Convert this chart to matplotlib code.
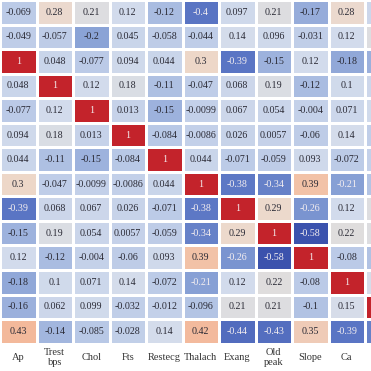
import numpy as np
import matplotlib
matplotlib.use("Agg")
import matplotlib.pyplot as plt
from matplotlib.colors import LinearSegmentedColormap
import seaborn as sns

rows = ["Age", "Sex", "Cp", "Trestbps", "Chol", "Fbs", "Restecg", "Thalach",
        "Exang", "Oldpeak", "Slope", "Ca", "Thal", "Target"]
cols = ["Ap", "Trest\nbps", "Chol", "Fts", "Restecg", "Thalach", "Exang",
        "Old\npeak", "Slope", "Ca", "Thal"]

age = [-0.069, 0.28, 0.21, 0.12, -0.12, -0.4, 0.097, 0.21, -0.17, 0.28, 0.068]
sex = [-0.049, -0.057, -0.2, 0.045, -0.058, -0.044, 0.14, 0.096, -0.031, 0.12, 0.21]
cp = [1, 0.048, -0.077, 0.094, 0.044, 0.3, -0.39, -0.15, 0.12, -0.18, -0.16]
trestbps = [0.048, 1, 0.12, 0.18, -0.11, -0.047, 0.068, 0.19, -0.12, 0.1, 0.062]
chol = [-0.077, 0.12, 1, 0.013, -0.15, -0.0099, 0.067, 0.054, -0.004, 0.071, 0.099]
fbs = [0.094, 0.18, 0.013, 1, -0.084, -0.0086, 0.026, 0.0057, -0.06, 0.14, -0.032]
restecg = [0.044, -0.11, -0.15, -0.084, 1, 0.044, -0.071, -0.059, 0.093, -0.072, -0.012]
thalach = [0.3, -0.047, -0.0099, -0.0086, 0.044, 1, -0.38, -0.34, 0.39, -0.21, -0.096]
exang = [-0.39, 0.068, 0.067, 0.026, -0.071, -0.38, 1, 0.29, -0.26, 0.12, 0.21]
oldpeak = [-0.15, 0.19, 0.054, 0.0057, -0.059, -0.34, 0.29, 1, -0.58, 0.22, 0.21]
slope = [0.12, -0.12, -0.004, -0.06, 0.093, 0.39, -0.26, -0.58, 1, -0.08, -0.1]
ca = [-0.18, 0.1, 0.071, 0.14, -0.072, -0.21, 0.12, 0.22, -0.08, 1, 0.15]
thal = [-0.16, 0.062, 0.099, -0.032, -0.012, -0.096, 0.21, 0.21, -0.1, 0.15, 1]
target = [0.43, -0.14, -0.085, -0.028, 0.14, 0.42, -0.44, -0.43, 0.35, -0.39, -0.34]

corr = np.array([age, sex, cp, trestbps, chol, fbs, restecg, thalach,
                 exang, oldpeak, slope, ca, thal, target])

# muted coolwarm
cmap = LinearSegmentedColormap.from_list("muted_cw", [
    (0.0, "#3b52ad"), (0.12, "#5b76c4"), (0.24, "#8aa3d6"),
    (0.32, "#bccbe7"), (0.45, "#d3dcec"), (0.5, "#dddddf"),
    (0.55, "#ecd9cc"), (0.62, "#f2c0a5"), (0.65, "#f3b596"),
    (0.8, "#e0654f"), (1.0, "#c3232b")])

plt.rcParams["font.family"] = ["Liberation Serif", "DejaVu Serif"]

W = 371
cw = 36.5
rh = 24.55
fig = plt.figure(figsize=(3.71, 3.71), dpi=100)
ax = fig.add_axes([0, 1 - 14 * rh / W, 11 * cw / W, 14 * rh / W])

sns.heatmap(corr, ax=ax, cmap=cmap, vmin=-0.58, vmax=1, annot=True,
            fmt=".2g", annot_kws={"fontsize": 7.2}, linewidths=1,
            linecolor="white", cbar=False, xticklabels=cols, yticklabels=False)

# light text only on the darkest cells
for t, v in zip(ax.texts, corr.ravel()):
    if v <= -0.21 or v >= 0.99:
        t.set_color("#f4eef0")
    else:
        t.set_color("#2a2a35")

ax.tick_params(axis="x", length=0, pad=10, labelsize=7.5)
for lab in ax.get_xticklabels():
    lab.set_rotation(0)
    lab.set_va("center")
    lab.set_linespacing(1.1)
    lab.set_color("#333333")

fig.savefig("out.png", dpi=100)
